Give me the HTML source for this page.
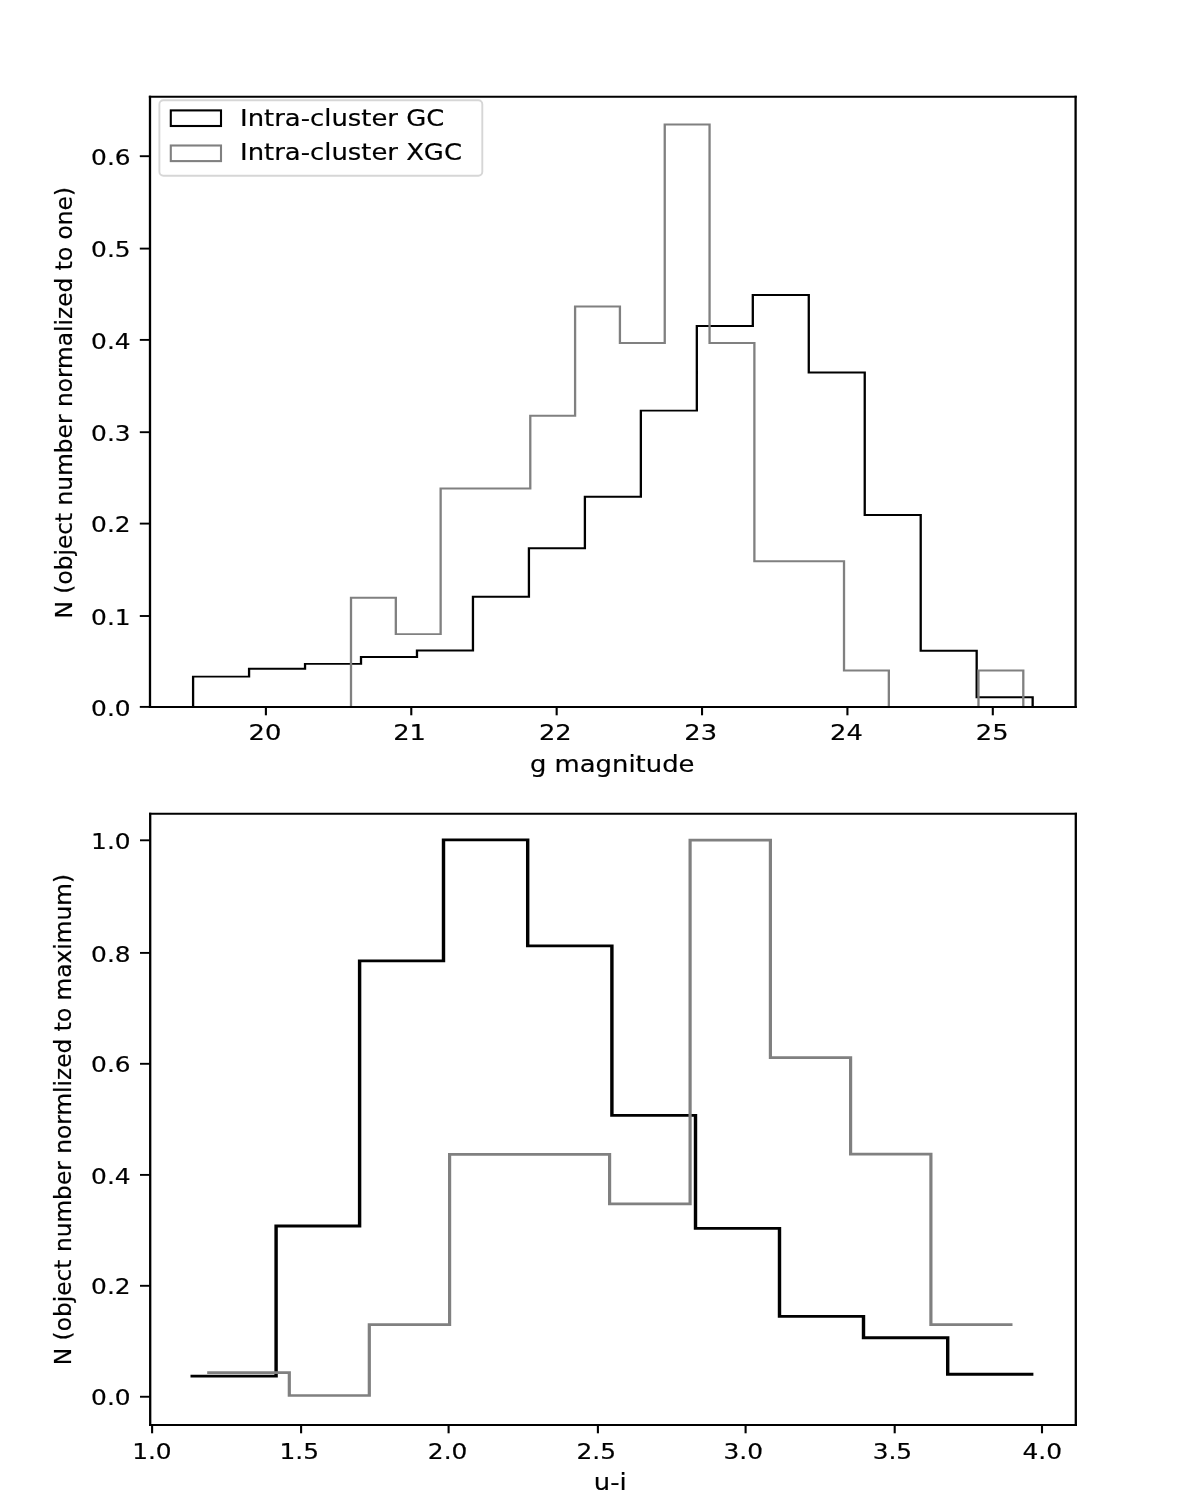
<!DOCTYPE html>
<html><head><meta charset="utf-8"><title>Intra-cluster GC / XGC histograms</title>
<style>
html,body{margin:0;padding:0;background:#fff;}
body{width:1194px;height:1512px;overflow:hidden;}
svg{display:block;}
text{font-family:'DejaVu Sans', 'Liberation Sans', sans-serif;fill:#000;stroke:#000;stroke-width:0.2px;}
</style></head>
<body>
<svg width="1194" height="1512" viewBox="0 0 1194 1512">
<defs><filter id="b" x="0" y="0" width="1" height="1"><feGaussianBlur stdDeviation="0.5"/></filter></defs><rect x="0" y="0" width="1194" height="1512" fill="#fff"/>
<g filter="url(#b)">
<g transform="scale(1.18,1)" fill="none" stroke-linejoin="miter">
<path d="M163.64,706.90 L163.64,676.61 L211.08,676.61 L211.08,668.81 L258.51,668.81 L258.51,663.86 L305.94,663.86 L305.94,657.06 L353.37,657.06 L353.37,650.55 L400.81,650.55 L400.81,596.76 L448.24,596.76 L448.24,548.21 L495.67,548.21 L495.67,496.72 L543.10,496.72 L543.10,410.63 L590.53,410.63 L590.53,326.01 L637.97,326.01 L637.97,295.08 L685.40,295.08 L685.40,372.55 L732.83,372.55 L732.83,515.08 L780.26,515.08 L780.26,650.73 L827.69,650.73 L827.69,697.17 L875.13,697.17 L875.13,706.90" stroke="#000" stroke-width="1.95"/>
<path d="M297.46,706.90 L297.46,597.70 L335.44,597.70 L335.44,634.10 L373.42,634.10 L373.42,488.50 L411.41,488.50 L411.41,488.50 L449.39,488.50 L449.39,415.70 L487.37,415.70 L487.37,306.50 L525.36,306.50 L525.36,342.90 L563.34,342.90 L563.34,124.50 L601.32,124.50 L601.32,342.90 L639.31,342.90 L639.31,561.30 L677.29,561.30 L677.29,561.30 L715.27,561.30 L715.27,670.50 L753.25,670.50 L753.25,706.90 L791.24,706.90 L791.24,706.90 L829.22,706.90 L829.22,670.50 L867.20,670.50 L867.20,706.90" stroke="#808080" stroke-width="1.95"/>
</g>
<path d="M148.85,96.80 H1076.75 M148.85,706.90 H1076.75" stroke="#000" stroke-width="2.0" fill="none"/>
<path d="M150.00,95.80 V707.90 M1075.60,95.80 V707.90" stroke="#000" stroke-width="2.3" fill="none"/>
<line x1="139.80" y1="706.90" x2="150.00" y2="706.90" stroke="#000" stroke-width="1.9"/>
<text transform="translate(130.60,715.50) scale(1.1300,1)" font-size="22.0" text-anchor="end">0.0</text>
<line x1="139.80" y1="616.00" x2="150.00" y2="616.00" stroke="#000" stroke-width="1.9"/>
<text transform="translate(130.60,624.60) scale(1.1300,1)" font-size="22.0" text-anchor="end">0.1</text>
<line x1="139.80" y1="523.60" x2="150.00" y2="523.60" stroke="#000" stroke-width="1.9"/>
<text transform="translate(130.60,532.20) scale(1.1300,1)" font-size="22.0" text-anchor="end">0.2</text>
<line x1="139.80" y1="432.20" x2="150.00" y2="432.20" stroke="#000" stroke-width="1.9"/>
<text transform="translate(130.60,440.80) scale(1.1300,1)" font-size="22.0" text-anchor="end">0.3</text>
<line x1="139.80" y1="339.90" x2="150.00" y2="339.90" stroke="#000" stroke-width="1.9"/>
<text transform="translate(130.60,348.50) scale(1.1300,1)" font-size="22.0" text-anchor="end">0.4</text>
<line x1="139.80" y1="248.60" x2="150.00" y2="248.60" stroke="#000" stroke-width="1.9"/>
<text transform="translate(130.60,257.20) scale(1.1300,1)" font-size="22.0" text-anchor="end">0.5</text>
<line x1="139.80" y1="156.20" x2="150.00" y2="156.20" stroke="#000" stroke-width="1.9"/>
<text transform="translate(130.60,164.80) scale(1.1300,1)" font-size="22.0" text-anchor="end">0.6</text>
<line x1="265.90" y1="706.90" x2="265.90" y2="715.30" stroke="#000" stroke-width="2.1"/>
<text transform="translate(264.90,740.30) scale(1.1700,1)" font-size="22.0" text-anchor="middle">20</text>
<line x1="411.28" y1="706.90" x2="411.28" y2="715.30" stroke="#000" stroke-width="2.1"/>
<text transform="translate(409.58,740.30) scale(1.1700,1)" font-size="22.0" text-anchor="middle">21</text>
<line x1="556.66" y1="706.90" x2="556.66" y2="715.30" stroke="#000" stroke-width="2.1"/>
<text transform="translate(555.36,740.30) scale(1.1700,1)" font-size="22.0" text-anchor="middle">22</text>
<line x1="702.04" y1="706.90" x2="702.04" y2="715.30" stroke="#000" stroke-width="2.1"/>
<text transform="translate(700.64,740.30) scale(1.1700,1)" font-size="22.0" text-anchor="middle">23</text>
<line x1="847.42" y1="706.90" x2="847.42" y2="715.30" stroke="#000" stroke-width="2.1"/>
<text transform="translate(846.42,740.30) scale(1.1700,1)" font-size="22.0" text-anchor="middle">24</text>
<line x1="992.80" y1="706.90" x2="992.80" y2="715.30" stroke="#000" stroke-width="2.1"/>
<text transform="translate(992.20,740.30) scale(1.1700,1)" font-size="22.0" text-anchor="middle">25</text>
<text transform="translate(612.20,772.40) scale(1.1250,1)" font-size="23.0" text-anchor="middle">g magnitude</text>
<text transform="translate(72.00,402.75) rotate(-90) scale(1.0,1)" font-size="23.3" text-anchor="middle">N (object number normalized to one)</text>
<rect x="159.4" y="100.3" width="322.9" height="75.5" rx="4" ry="4" fill="#fff" fill-opacity="0.8" stroke="#d6d6d6" stroke-width="1.9"/>
<rect x="170.8" y="110.4" width="50.2" height="15.6" fill="none" stroke="#000" stroke-width="2.1"/>
<rect x="170.8" y="145.5" width="50.2" height="15.6" fill="none" stroke="#808080" stroke-width="2.1"/>
<text transform="translate(240.00,125.70) scale(1.1450,1)" font-size="22.6" text-anchor="start">Intra-cluster GC</text>
<text transform="translate(240.00,160.20) scale(1.1450,1)" font-size="22.6" text-anchor="start">Intra-cluster XGC</text>
<g transform="scale(1.18,1)" fill="none" stroke-linejoin="miter" stroke-linecap="butt">
<path d="M161.44,1376.09 L233.98,1376.09 L233.98,1225.96 L304.75,1225.96 L304.75,960.85 L375.85,960.85 L375.85,839.90 L447.20,839.90 L447.20,945.92 L518.56,945.92 L518.56,1115.37 L589.41,1115.37 L589.41,1228.41 L660.59,1228.41 L660.59,1316.40 L731.78,1316.40 L731.78,1337.72 L803.14,1337.72 L803.14,1374.20 L875.76,1374.20" stroke="#000" stroke-width="2.9"/>
<path d="M175.59,1372.69 L245.17,1372.69 L245.17,1395.52 L312.97,1395.52 L312.97,1324.69 L381.02,1324.69 L381.02,1154.30 L516.61,1154.30 L516.61,1203.80 L584.83,1203.80 L584.83,840.18 L652.88,840.18 L652.88,1057.63 L720.85,1057.63 L720.85,1154.07 L788.90,1154.07 L788.90,1324.69 L858.05,1324.69" stroke="#808080" stroke-width="2.7"/>
</g>
<path d="M149.05,813.70 H1076.95 M149.05,1424.90 H1076.95" stroke="#000" stroke-width="2.0" fill="none"/>
<path d="M150.20,812.70 V1425.90 M1075.80,812.70 V1425.90" stroke="#000" stroke-width="2.3" fill="none"/>
<line x1="140.00" y1="1396.75" x2="150.20" y2="1396.75" stroke="#000" stroke-width="1.9"/>
<text transform="translate(130.60,1405.35) scale(1.1300,1)" font-size="22.0" text-anchor="end">0.0</text>
<line x1="140.00" y1="1285.80" x2="150.20" y2="1285.80" stroke="#000" stroke-width="1.9"/>
<text transform="translate(130.60,1294.40) scale(1.1300,1)" font-size="22.0" text-anchor="end">0.2</text>
<line x1="140.00" y1="1174.90" x2="150.20" y2="1174.90" stroke="#000" stroke-width="1.9"/>
<text transform="translate(130.60,1183.50) scale(1.1300,1)" font-size="22.0" text-anchor="end">0.4</text>
<line x1="140.00" y1="1063.80" x2="150.20" y2="1063.80" stroke="#000" stroke-width="1.9"/>
<text transform="translate(130.60,1072.40) scale(1.1300,1)" font-size="22.0" text-anchor="end">0.6</text>
<line x1="140.00" y1="952.90" x2="150.20" y2="952.90" stroke="#000" stroke-width="1.9"/>
<text transform="translate(130.60,961.50) scale(1.1300,1)" font-size="22.0" text-anchor="end">0.8</text>
<line x1="140.00" y1="840.30" x2="150.20" y2="840.30" stroke="#000" stroke-width="1.9"/>
<text transform="translate(130.60,848.90) scale(1.1300,1)" font-size="22.0" text-anchor="end">1.0</text>
<line x1="152.10" y1="1424.90" x2="152.10" y2="1433.30" stroke="#000" stroke-width="2.1"/>
<text transform="translate(151.90,1458.60) scale(1.1300,1)" font-size="22.0" text-anchor="middle">1.0</text>
<line x1="301.10" y1="1424.90" x2="301.10" y2="1433.30" stroke="#000" stroke-width="2.1"/>
<text transform="translate(299.20,1458.60) scale(1.1300,1)" font-size="22.0" text-anchor="middle">1.5</text>
<line x1="448.60" y1="1424.90" x2="448.60" y2="1433.30" stroke="#000" stroke-width="2.1"/>
<text transform="translate(447.60,1458.60) scale(1.1300,1)" font-size="22.0" text-anchor="middle">2.0</text>
<line x1="597.90" y1="1424.90" x2="597.90" y2="1433.30" stroke="#000" stroke-width="2.1"/>
<text transform="translate(596.30,1458.60) scale(1.1300,1)" font-size="22.0" text-anchor="middle">2.5</text>
<line x1="745.60" y1="1424.90" x2="745.60" y2="1433.30" stroke="#000" stroke-width="2.1"/>
<text transform="translate(743.20,1458.60) scale(1.1300,1)" font-size="22.0" text-anchor="middle">3.0</text>
<line x1="894.70" y1="1424.90" x2="894.70" y2="1433.30" stroke="#000" stroke-width="2.1"/>
<text transform="translate(892.40,1458.60) scale(1.1300,1)" font-size="22.0" text-anchor="middle">3.5</text>
<line x1="1042.00" y1="1424.90" x2="1042.00" y2="1433.30" stroke="#000" stroke-width="2.1"/>
<text transform="translate(1042.20,1458.60) scale(1.1300,1)" font-size="22.0" text-anchor="middle">4.0</text>
<text transform="translate(610.20,1489.60) scale(1.1250,1)" font-size="23.0" text-anchor="middle">u-i</text>
<text transform="translate(71.00,1119.60) rotate(-90) scale(1.0,1)" font-size="23.3" text-anchor="middle">N (object number normlized to maximum)</text>
</g>
</svg>
</body></html>
